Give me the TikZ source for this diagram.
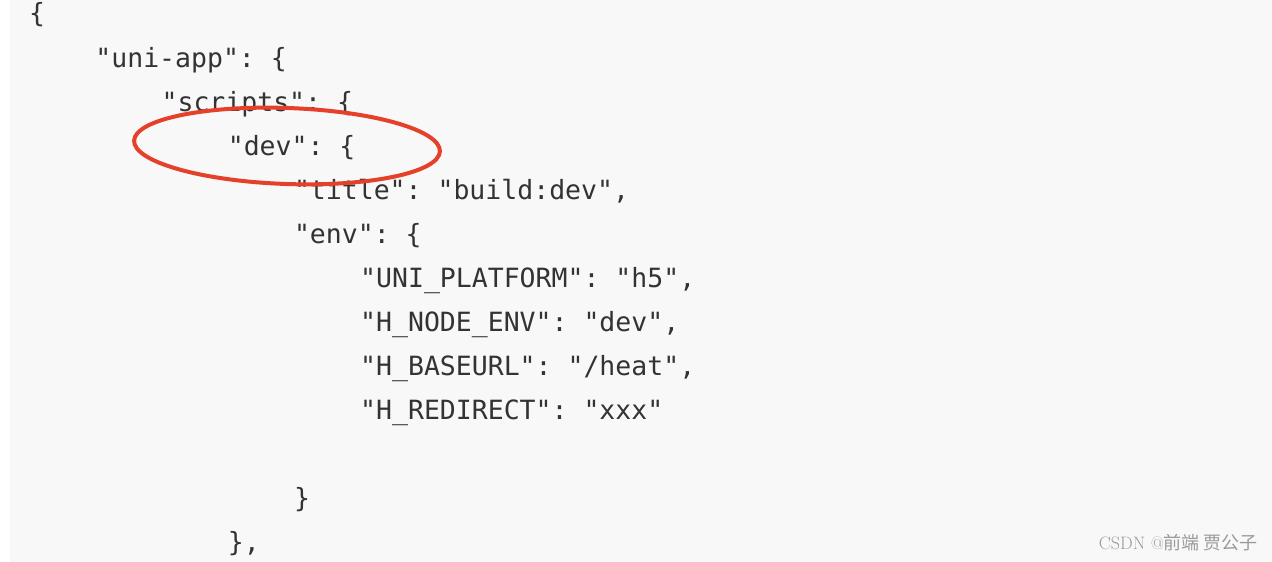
\documentclass[tikz,border=0pt]{standalone}
\usepackage{fontspec}
\setmonofont{DejaVu Sans Mono}
\newfontfamily\cjk{Noto Sans CJK SC}
\definecolor{bgc}{HTML}{F8F8F8}
\definecolor{codec}{HTML}{333333}
\definecolor{redc}{HTML}{E5412A}
\begin{document}
\begin{tikzpicture}[x=1pt,y=-1pt,
  code/.style={anchor=base west,inner sep=0pt,text=codec,font=\fontsize{26.5}{26.5}\selectfont\ttfamily}]
\useasboundingbox (0,0) rectangle (1272,562);
\fill[bgc] (10,0) rectangle (1272,562);
\def\cw{16.55}
\foreach \n/\ind/\ln/\t in {
 l0/0/0/{\{},
 l1/4/1/{"uni-app": \{},
 l2/8/2/{"scripts": \{},
 l3/12/3/{"dev": \{},
 l4/16/4/{"title": "build:dev",},
 l5/16/5/{"env": \{},
 l6/20/6/{"UNI\_PLATFORM": "h5",},
 l7/20/7/{"H\_NODE\_ENV": "dev",},
 l8/20/8/{"H\_BASEURL": "/heat",},
 l9/20/9/{"H\_REDIRECT": "xxx"},
 l11/16/11/{\}},
 l12/12/12/{\},}}
  \node[code] (\n) at ({29+\ind*\cw},{23+\ln*44}) {\t};
\draw[redc,line width=4pt,rotate around={-2:(287,146)}] (287,146) ellipse [x radius=153,y radius=38];
\node[anchor=base east,inner sep=0pt,text=gray!80,font=\fontsize{18}{18}\selectfont] (wm) at (1258,549) {CSDN @{\cjk 前端 贾公子}};
\end{tikzpicture}
\end{document}
